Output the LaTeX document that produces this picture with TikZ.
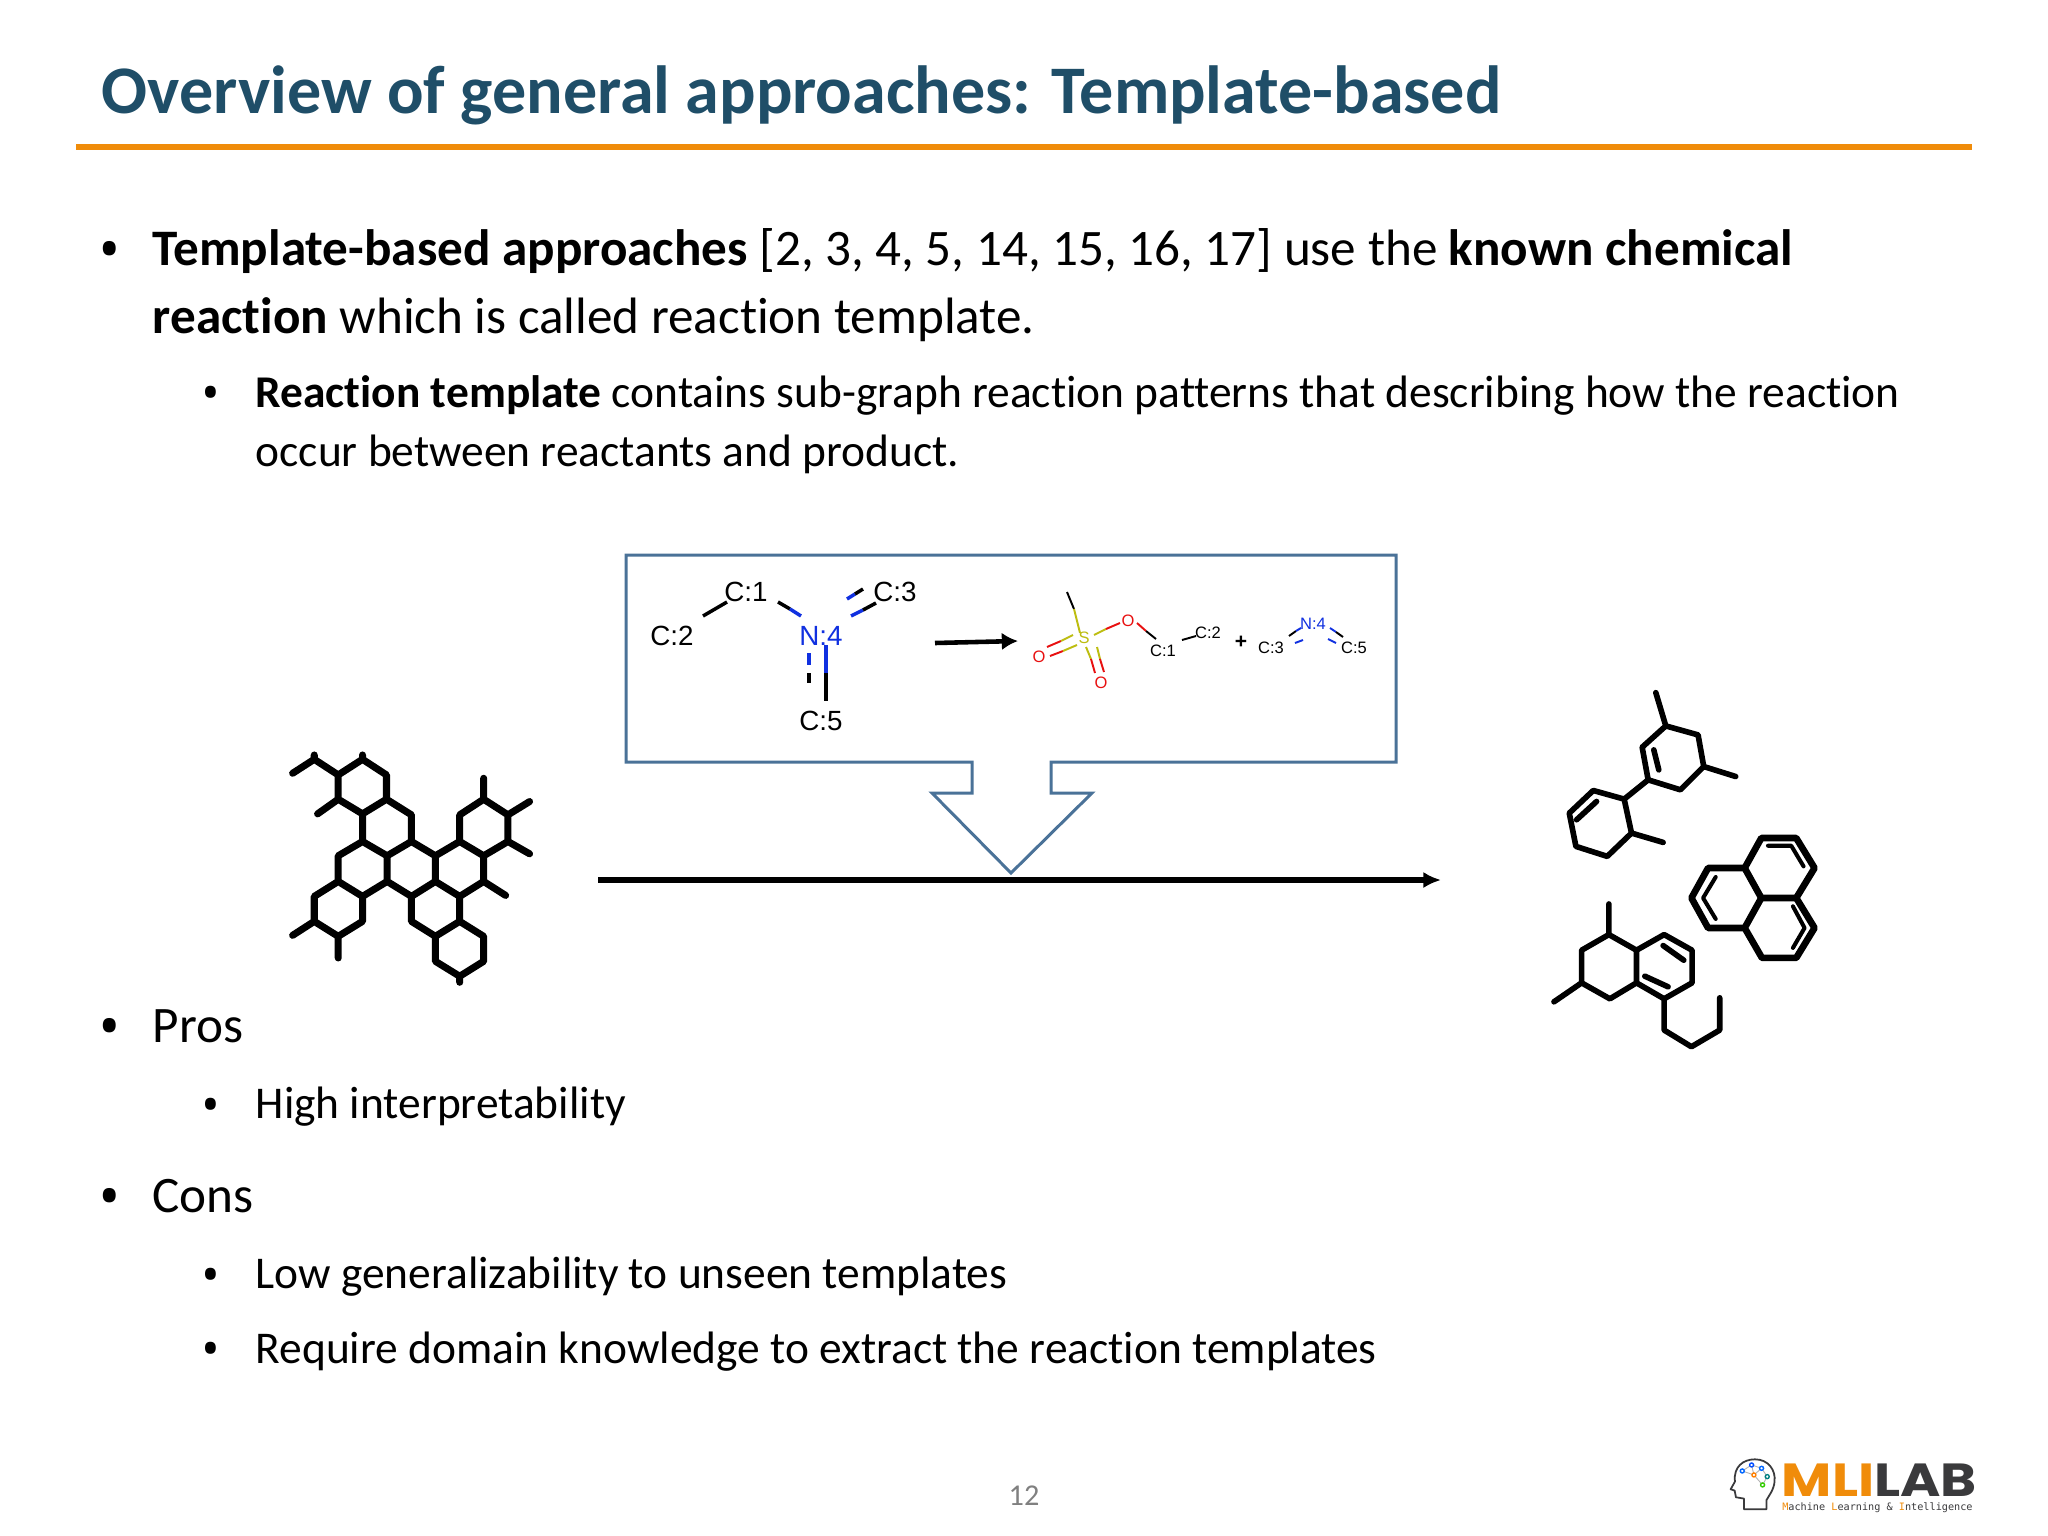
\documentclass[tikz,border=0pt]{standalone}
\usepackage{fontspec}
\setmainfont[Ligatures=NoCommon]{Carlito}
\newfontfamily\bulletfont{Open Sans}
\newfontfamily\atomfont{Liberation Sans}
\newfontfamily\logofont{Poppins}
\newfontfamily\logosub{DejaVu Sans Mono}
\usetikzlibrary{arrows.meta,positioning}
\definecolor{titleblue}{HTML}{1F4E68}
\definecolor{ruleorange}{HTML}{F08C0A}
\definecolor{boxblue}{HTML}{4A7298}
\definecolor{logodark}{HTML}{3A3A3C}
\definecolor{atomblue}{HTML}{1030E0}
\definecolor{atomyellow}{HTML}{BDBD10}
\definecolor{atomred}{HTML}{E81010}
\tikzset{
  toptext/.style={anchor=base west,inner sep=0pt,font=\fontsize{14.55pt}{16pt}\selectfont},
  subtext/.style={anchor=base west,inner sep=0pt,font=\fontsize{12.92pt}{15pt}\selectfont},
  topdot/.style={anchor=base,inner sep=0pt,font=\bulletfont\fontsize{17pt}{18pt}\selectfont},
  subdot/.style={anchor=base,inner sep=0pt,font=\bulletfont\fontsize{14.2pt}{15pt}\selectfont},
  mol/.style={line width=1.6pt,line cap=round,line join=round},
  bond/.style={line width=1pt},
  tinybond/.style={line width=0.55pt},
  bigatom/.style={inner sep=0pt,font=\atomfont\fontsize{7.9pt}{8pt}\selectfont},
  tinyatom/.style={inner sep=0pt,font=\atomfont\fontsize{4.7pt}{5pt}\selectfont},
}
\begin{document}
\begin{tikzpicture}[x=0.01cm,y=-0.01cm]
  \useasboundingbox (0,0) rectangle (2048,1536);
  \fill[white] (0,0) rectangle (2048,1536);

  % title
  \node[anchor=base west,inner sep=0pt,text=titleblue,font=\fontsize{19.36pt}{21pt}\selectfont\bfseries] at (101,113) (title) {Overview of general approaches: Template-based};
  \draw[ruleorange,line width=1.6pt] (76,147) -- (1972,147);

  % text
  \node[topdot] at (110,270) (d1) {•};
  \node[toptext] at (152,265) (t1) {\textbf{Template-based approaches} [2, 3, 4, 5, 14, 15, 16, 17] use the \textbf{known chemical}};
  \node[toptext] at (152,333) (t2) {\textbf{reaction} which is called reaction template.};
  \node[subdot] at (211,410) (d2) {•};
  \node[subtext] at (255,407) (t3) {\textbf{Reaction template} contains sub-graph reaction patterns that describing how the reaction};
  \node[subtext] at (255,466) (t4) {occur between reactants and product.};
  \node[topdot] at (110,1047) (d3) {•};
  \node[toptext] at (152,1042) (pros) {Pros};
  \node[subdot] at (211,1122) (d4) {•};
  \node[subtext] at (255,1118) (pro1) {High interpretability};
  \node[topdot] at (110,1217) (d5) {•};
  \node[toptext] at (152,1212) (cons) {Cons};
  \node[subdot] at (211,1292) (d6) {•};
  \node[subtext] at (255,1288) (con1) {Low generalizability to unseen templates};
  \node[subdot] at (211,1366) (d7) {•};
  \node[subtext] at (255,1363) (con2) {Require domain knowledge to extract the reaction templates};
  \node[text=gray,font=\fontsize{8.6pt}{9pt}\selectfont] at (1024,1496) (page) {12};

  % main reaction arrow
  \coordinate (from) at (598,880);
  \coordinate (to) at (1441,880);
  \draw[-{Latex[length=5pt,width=4.6pt]},line width=1.5pt] (from) -- (to);

  % template callout
  \draw[boxblue,line width=0.85pt] (626,555) -- (1396,555) -- (1396,762) -- (1051,762) -- (1051,793) -- (1092,793)
    -- (1011,873) -- (932,793) -- (972,793) -- (972,762) -- (626,762) -- cycle;

  % template: left part
  \node[bigatom] at (672,636) (c2) {C:2};
  \node[bigatom] at (746,592) (c1) {C:1};
  \node[bigatom] at (895,592) (c3) {C:3};
  \node[bigatom,text=atomblue] at (821,636) (n4) {N:4};
  \node[bigatom] at (821,721) (c5) {C:5};
  \draw[bond] (703,616) -- (727,602);
  \draw[bond] (778,602) -- (790,609);
  \draw[bond,atomblue] (790,609) -- (801,616);
  \draw[bond,atomblue] (847,599) -- (855,594);
  \draw[bond] (855,594) -- (863,589);
  \draw[bond,atomblue] (851,616) -- (863,610);
  \draw[bond] (863,610) -- (876,603);
  \draw[bond,atomblue] (826,645) -- (826,673);
  \draw[bond] (826,673) -- (826,701);
  \draw[bond,atomblue] (809,653) -- (809,665);
  \draw[bond] (809,673) -- (809,683);
  \draw[line width=1.3pt,-{Latex[length=4.6pt,width=5pt]}] (935,643) -- (1018,641);

  % template: right part
  \node[tinyatom,text=atomyellow] at (1084,638) (s) {S};
  \node[tinyatom,text=atomred] at (1128,621) (o1) {O};
  \node[tinyatom,text=atomred] at (1039,657) (o2) {O};
  \node[tinyatom,text=atomred] at (1101,683) (o3) {O};
  \node[tinyatom] at (1163,651) (cb1) {C:1};
  \node[tinyatom] at (1208,633) (cb2) {C:2};
  \node[tinyatom,font=\atomfont\bfseries\fontsize{6pt}{6pt}\selectfont] at (1241,642) (plus) {+};
  \node[tinyatom] at (1271,648) (cb3) {C:3};
  \node[tinyatom,text=atomblue] at (1313,624) (nb4) {N:4};
  \node[tinyatom] at (1354,648) (cb5) {C:5};
  \draw[tinybond] (1067,592) -- (1074,609);
  \draw[tinybond,atomyellow] (1074,609) -- (1080,633);
  \draw[tinybond,atomyellow] (1094,635) -- (1106,629);
  \draw[tinybond,atomred] (1106,629) -- (1120,623);
  \draw[tinybond,atomred] (1137,623) -- (1146,631);
  \draw[tinybond] (1146,631) -- (1156,639);
  \draw[tinybond] (1182,640) -- (1196,636);
  \draw[tinybond,atomred] (1047,647) -- (1061,641);
  \draw[tinybond,atomyellow] (1061,641) -- (1073,635);
  \draw[tinybond,atomred] (1050,656) -- (1063,651);
  \draw[tinybond,atomyellow] (1063,651) -- (1077,645);
  \draw[tinybond,atomyellow] (1086,647) -- (1091,659);
  \draw[tinybond,atomred] (1091,659) -- (1095,673);
  \draw[tinybond,atomyellow] (1097,647) -- (1100,659);
  \draw[tinybond,atomred] (1100,659) -- (1104,672);
  \draw[tinybond] (1289,636) -- (1296,631);
  \draw[tinybond,atomblue] (1296,631) -- (1301,628);
  \draw[tinybond,atomblue] (1295,643) -- (1303,640);
  \draw[tinybond,atomblue] (1330,628) -- (1336,632);
  \draw[tinybond] (1336,632) -- (1343,637);
  \draw[tinybond,atomblue] (1328,639) -- (1336,643);

  % reactant
  \begin{scope}[shift={(270,730)},x=0.00333cm,y=-0.00333cm]
    \draw[mol,line width=2pt] (68,130) -- (133,88) -- (205,135) -- (278,88) -- (350,135) -- (350,208) -- (278,252) -- (205,208) -- (205,135)
      (205,208) -- (143,252) (133,75) -- (133,88) (278,75) -- (278,88)
      (350,208) -- (425,255) -- (425,335) -- (352,378) -- (278,335) -- (278,252)
      (278,335) -- (205,378) -- (205,455) -- (278,500) -- (352,455) -- (352,378)
      (425,335) -- (497,378) -- (497,455) -- (425,500) -- (352,455)
      (497,378) -- (570,335) -- (642,378) -- (642,455) -- (570,500) -- (497,455)
      (570,335) -- (570,255) -- (642,208) -- (715,255) -- (715,335) -- (642,378)
      (642,208) -- (642,145) (715,255) -- (780,215) (715,335) -- (780,372) (642,455) -- (708,497)
      (205,455) -- (133,500) -- (133,575) -- (205,620) -- (278,575) -- (278,500)
      (133,575) -- (68,617) (205,620) -- (205,685)
      (425,500) -- (425,575) -- (497,620) -- (570,575) -- (570,500)
      (497,620) -- (497,695) -- (570,740) -- (642,695) -- (642,620) -- (570,575)
      (570,740) -- (570,758);
  \end{scope}

  % products
  \begin{scope}[shift={(1530,670)},x=0.00333cm,y=-0.00333cm]
    \draw[mol,line width=1.6pt] (378,68) -- (408,168) -- (505,195) -- (522,290) -- (452,360) -- (355,330) -- (337,232) -- (408,168)
      (522,290) -- (618,320) (372,240) -- (387,300)
      (355,330) -- (283,388) -- (190,362) -- (118,430) -- (138,530) -- (232,560) -- (305,490) -- (283,388)
      (305,490) -- (400,518) (140,450) -- (200,395);
    \draw[mol,line width=1.9pt] (645,595) -- (695,505) -- (800,505) -- (855,595) -- (800,685) -- (695,685) -- cycle
      (800,685) -- (855,775) -- (800,865) -- (697,865) -- (645,775) -- (695,685)
      (645,595) -- (535,595) -- (485,685) -- (535,775) -- (645,775);
    \draw[mol,line width=1.15pt] (715,528) -- (785,528) -- (822,590) (790,710) -- (825,775) -- (790,835) (558,622) -- (520,685) -- (558,748);
    \draw[mol,line width=1.6pt] (237,703) -- (237,795) -- (320,842) -- (320,940) -- (240,988) -- (155,940) -- (155,842) -- (237,795)
      (155,940) -- (72,997) (320,842) -- (403,795) -- (487,842) -- (487,940) -- (403,988) -- (320,940)
      (400,828) -- (462,872) (345,920) -- (415,952)
      (403,988) -- (403,1082) -- (485,1132) -- (570,1082) -- (570,985);
  \end{scope}

  % logo
  \begin{scope}[shift={(1700,1440)},x=0.00333cm,y=-0.00333cm]
    \draw[logodark,line width=0.5pt,line join=round] (132,208) -- (132,176) -- (108,172) -- (104,152) -- (92,148) -- (105,125)
      .. controls (100,80) and (130,58) .. (165,58) .. controls (205,58) and (228,90) .. (224,125)
      .. controls (222,150) and (205,170) .. (200,180) -- (200,208) -- cycle;
    \draw[gray!60,line width=0.25pt] (127,93) -- (155,75) -- (185,85) -- (162,105) -- (127,93) (155,75) -- (162,105) -- (188,135) -- (202,110) -- (185,85);
    \foreach \px/\py/\pc in {127/93/blue!60!cyan, 155/75/blue!70!cyan, 185/85/blue!60!cyan, 162/105/orange, 202/110/teal, 188/135/green!60!olive}{
      \filldraw[fill=white,draw=\pc,line width=0.4pt] (\px,\py) circle (6);
    }
    \node[inner sep=0pt,anchor=base west,xscale=1.18,font=\logofont\bfseries\fontsize{13.2pt}{14pt}\selectfont] at (243,170) (logo) {\textcolor{ruleorange}{MLI}\textcolor{logodark}{LAB}};
    \node[inner sep=0pt,anchor=base west,text=logodark,font=\logosub\fontsize{2.9pt}{4pt}\selectfont] at (245,212) (logosub) {\textcolor{ruleorange}{M}achine \textcolor{ruleorange}{L}earning \& \textcolor{ruleorange}{I}ntelligence};
  \end{scope}
\end{tikzpicture}
\end{document}
